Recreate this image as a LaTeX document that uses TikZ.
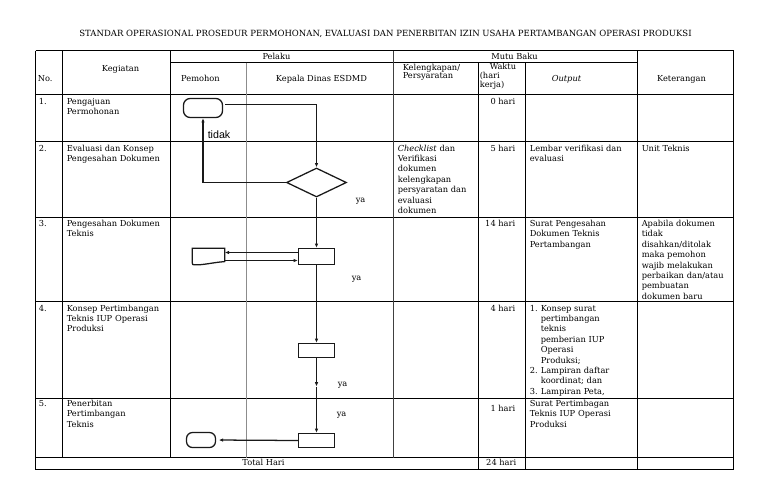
\documentclass[tikz,border=0pt]{standalone}
\usepackage{fontspec}
\setmainfont{DejaVu Serif}
\newfontfamily\lsans{Liberation Sans}
\usetikzlibrary{shapes.geometric,arrows.meta}
\newcommand\fs{\fontsize{6.2}{7.8}\selectfont}
\begin{document}
\begin{tikzpicture}[x=0.75pt,y=-0.75pt,
 grid/.style={line width=0.8pt},
 t/.style={inner sep=0pt,anchor=base west,font=\fs},
 tc/.style={inner sep=0pt,anchor=base,font=\fs},
 tr/.style={inner sep=0pt,anchor=base east,font=\fs},
 ml/.style={t,text width=110pt,align=left},
 flow/.style={line width=0.95pt,black!90},
 arr/.style={flow,-{Latex[length=3.2pt,width=2.6pt]}},
 term/.style={draw,flow,rounded corners=5pt,inner sep=0pt},
 proc/.style={draw,flow,inner sep=0pt,minimum width=27pt,minimum height=10.5pt},
 dec/.style={draw,flow,diamond,inner sep=0pt,minimum width=45pt,minimum height=21.75pt},
 lbl/.style={inner sep=0pt,anchor=base west,font=\fs}]
\useasboundingbox[fill=white] (0,0) rectangle (768,501);
\begin{scope}[shift={(0.5,0.5)}]
% title
\node[tc,font=\fontsize{6.4}{7.8}\selectfont] (title) at (385,36) {STANDAR OPERASIONAL PROSEDUR PERMOHONAN, EVALUASI DAN PENERBITAN IZIN USAHA PERTAMBANGAN OPERASI PRODUKSI};

% table grid
\draw[grid] (35,50) -- (733,50);
\draw[grid] (170,62) -- (637,62);
\foreach \y in {94,141,217,301,398,457,469} \draw[grid] (35,\y) -- (733,\y);
\draw[grid] (35,50) -- (35,469);
\draw[grid] (62,50) -- (62,457);
\draw[grid] (170,50) -- (170,457);
\draw[grid,black!45] (246,62) -- (246,457);
\draw[grid,line width=1.2pt,black!75] (393,50) -- (393,457);
\draw[grid] (478,62) -- (478,469);
\draw[grid] (525,62) -- (525,469);
\draw[grid] (637,50) -- (637,469);
\draw[grid] (733,50) -- (733,469);

% header
\node[tc] (hpel) at (276,58.5) {Pelaku};
\node[tc] (hmut) at (514,58.5) {Mutu Baku};
\node[tc] (hkeg) at (120,71) {Kegiatan};
\node[t] (hno) at (37,80.5) {No.};
\node[tc] (hpem) at (200,80.5) {Pemohon};
\node[tc] (hkep) at (321,80.5) {Kepala Dinas ESDMD};
\node[t] (hkel1) at (402,69.5) {Kelengkapan/};
\node[t] (hkel2) at (402,77.5) {Persyaratan};
\node[t] (hwak1) at (489,68.5) {Waktu};
\node[t] (hwak2) at (479,77.5) {(hari};
\node[t] (hwak3) at (479,86.5) {kerja)};
\node[tc] (hout) at (566,80.5) {\textit{Output}};
\node[tc] (hket) at (681,80.5) {Keterangan};

% row 1
\node[t] (n1) at (38,103.5) {1.};
\node[ml] (k1) at (66,103.5) {Pengajuan\\Permohonan};
\node[tr] (w1) at (515,104) {0 hari};

% row 2
\node[t] (n2) at (38,150.5) {2.};
\node[ml] (k2) at (66,150.5) {\makebox[75pt][s]{Evaluasi dan Konsep}\\\makebox[75pt][s]{Pengesahan Dokumen}};
\node[ml] (c2) at (397,150.5) {\textit{Checklist} dan\\Verifikasi\\dokumen\\kelengkapan\\persyaratan dan\\evaluasi\\dokumen};
\node[tr] (w2) at (515,150.5) {5 hari};
\node[ml] (o2) at (529,150.5) {Lembar verifikasi dan\\evaluasi};
\node[t] (r2) at (641,150.5) {Unit Teknis};

% row 3
\node[t] (n3) at (38,226) {3.};
\node[ml] (k3) at (66,226) {\makebox[75pt][s]{Pengesahan Dokumen}\\Teknis};
\node[tr] (w3) at (515,226) {14 hari};
\node[ml] (o3) at (529,226) {Surat Pengesahan\\Dokumen Teknis\\Pertambangan};
\node[ml] (r3) at (641,226) {Apabila dokumen\\tidak\\disahkan/ditolak\\maka pemohon\\wajib melakukan\\perbaikan dan/atau\\pembuatan\\dokumen baru};

% row 4
\node[t] (n4) at (38,310.5) {4.};
\node[ml] (k4) at (66,310.5) {\makebox[75pt][s]{Konsep Pertimbangan}\\\makebox[75pt][s]{Teknis IUP Operasi}\\Produksi};
\node[tr] (w4) at (515,310.5) {4 hari};
\node[t] (o4a) at (529,310.5) {1.};
\node[ml] (o4b) at (540,310.5) {Konsep surat\\pertimbangan\\teknis\\pemberian IUP\\Operasi\\Produksi;};
\node[t] (o4c) at (529,373) {2.};
\node[ml] (o4d) at (540,373) {Lampiran daftar\\koordinat; dan};
\node[t] (o4e) at (529,394) {3.};
\node[t] (o4f) at (540,394) {Lampiran Peta,};

% row 5
\node[t] (n5) at (38,406) {5.};
\node[ml] (k5) at (66,406) {Penerbitan\\Pertimbangan\\Teknis};
\node[tr] (w5) at (515,410.5) {1 hari};
\node[ml] (o5) at (529,406) {Surat Pertimbagan\\Teknis IUP Operasi\\Produksi};

% total
\node[tc] (tot) at (263,465) {Total Hari};
\node[tr] (w6) at (516,465) {24 hari};

% flow shapes
\node[term,minimum width=29.25pt,minimum height=14.25pt] (t1) at (202.5,107.5) {};
\node[dec] (d1) at (316,182) {};
\node[proc,minimum height=12pt] (p3) at (316,256) {};
\node[inner sep=0pt,minimum width=24pt,minimum height=12pt] (doc) at (208,256) {};
\draw[flow] (doc.north west) -- (doc.north east) -- ([yshift=2.4pt]doc.south east)
   .. controls ([xshift=-10pt,yshift=1.6pt]doc.south east) and ([xshift=8pt,yshift=-0.4pt]doc.south west) .. ([xshift=1.5pt]doc.south west)
   .. controls ([xshift=0.3pt]doc.south west) .. ([yshift=1.5pt]doc.south west) -- cycle;
\node[proc] (p4) at (316,350) {};
\node[proc] (p5) at (316,440) {};
\node[term,rounded corners=4.5pt,minimum width=21.75pt,minimum height=11.25pt] (t5) at (200.5,439.5) {};
\coordinate (m4) at (316,386);

% connectors
\draw[arr] ([xshift=1.5pt,yshift=2.6pt]t1.east) -| (d1.north);
\draw[arr] (d1.west) -| (t1.south);
\draw[arr] (d1.south) -- (p3.north);
\draw[arr] ([yshift=3pt]p3.west) -- ([yshift=3pt]doc.east);
\draw[arr] ([yshift=-3pt]doc.east) -- ([yshift=-3pt]p3.west);
\draw[arr] (p3.south) -- (p4.north);
\draw[arr] (p4.south) -- (m4);
\draw[arr] (m4) -- (p5.north);
\draw[arr,shorten >=2pt] (p5.west) -- (t5.east);

% labels
\node[inner sep=0pt,anchor=base west,font=\lsans\fontsize{8}{9}\selectfont] (ltidak) at (207,138) {tidak};
\node[lbl] (lya2) at (355,201.5) {ya};
\node[lbl] (lya3) at (351,279.5) {ya};
\node[lbl] (lya4) at (337,385.5) {ya};
\node[lbl] (lya5) at (336,415.5) {ya};
\end{scope}
\end{tikzpicture}
\end{document}
